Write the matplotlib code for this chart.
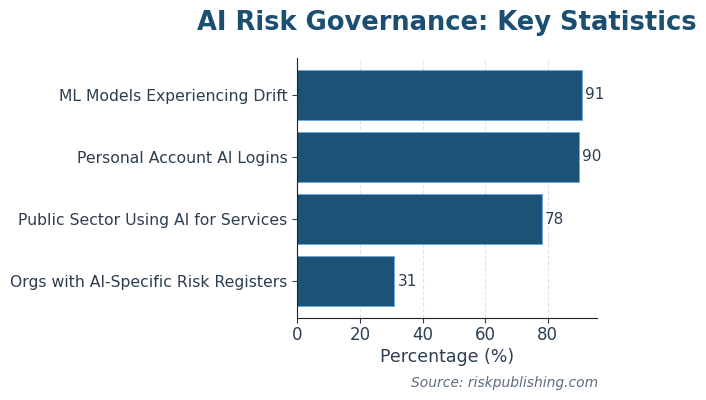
import matplotlib
matplotlib.use("Agg")
import matplotlib.pyplot as plt

categories = [
    "Orgs with AI-Specific Risk Registers",
    "Public Sector Using AI for Services",
    "Personal Account AI Logins",
    "ML Models Experiencing Drift",
]
values = [31, 78, 90, 91]

BAR_COLOR = "#1b5276"
TEXT_COLOR = "#2c3e50"

fig, ax = plt.subplots(figsize=(7.06, 4.0), dpi=100)
fig.subplots_adjust(left=0.421, right=0.845, bottom=0.205, top=0.855)

bars = ax.barh(categories, values, color=BAR_COLOR, edgecolor="#6fa8dc", linewidth=0.7, height=0.8)
for bar, v in zip(bars, values):
    ax.text(v + 1, bar.get_y() + bar.get_height() / 2, f"{v}",
            va="center", ha="left", fontsize=11, color=TEXT_COLOR)

ax.set_xlim(0, max(values) * 1.05)
ax.set_xlabel("Percentage (%)", fontsize=12.5, color=TEXT_COLOR, labelpad=3)
ax.set_title("AI Risk Governance: Key Statistics", fontsize=18.5, fontweight="bold",
             color="#1b4f72", pad=20)
ax.tick_params(axis="y", labelsize=11.25, colors=TEXT_COLOR)
ax.tick_params(axis="x", labelsize=12, colors=TEXT_COLOR, pad=2.5)
ax.xaxis.grid(True, linestyle="--", color="#dddddd", alpha=0.8)
ax.set_axisbelow(True)
for s in ["top", "right"]:
    ax.spines[s].set_visible(False)
for s in ["left", "bottom"]:
    ax.spines[s].set_color("#222222")

fig.text(0.847, 0.043, "Source: riskpublishing.com", ha="right", va="center",
         fontsize=10, style="italic", color="#5d6d7e")

fig.savefig("out.png", dpi=100)
